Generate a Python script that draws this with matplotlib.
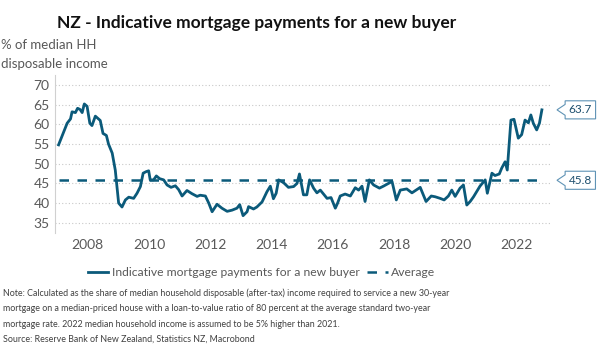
import numpy as np
import matplotlib
matplotlib.use("Agg")
import matplotlib.pyplot as plt
from matplotlib.path import Path

plt.rcParams['font.family'] = ['Lato', 'DejaVu Sans']

# decimal year, % of median HH disposable income
dates = [2007.05, 2007.22, 2007.33, 2007.44, 2007.49, 2007.60, 2007.67, 2007.75, 2007.82,
         2007.89, 2007.98, 2008.07, 2008.14, 2008.25, 2008.41, 2008.50, 2008.61, 2008.68,
         2008.80, 2008.90, 2009.01, 2009.12, 2009.23, 2009.34, 2009.50, 2009.61, 2009.72,
         2009.81, 2009.91, 2009.99, 2010.04, 2010.15, 2010.24, 2010.35, 2010.48, 2010.59,
         2010.72, 2010.86, 2010.97, 2011.08, 2011.24, 2011.40, 2011.57, 2011.67, 2011.84,
         2011.95, 2012.06, 2012.22, 2012.38, 2012.55, 2012.71, 2012.87, 2012.96, 2013.07,
         2013.20, 2013.25, 2013.41, 2013.52, 2013.69, 2013.85, 2013.96, 2014.06, 2014.15,
         2014.23, 2014.39, 2014.55, 2014.72, 2014.83, 2014.91, 2015.04, 2015.15, 2015.24,
         2015.37, 2015.48, 2015.59, 2015.81, 2015.94, 2016.08, 2016.15, 2016.24, 2016.40,
         2016.57, 2016.73, 2016.84, 2016.95, 2017.05, 2017.19, 2017.33, 2017.52, 2017.65,
         2017.93, 2018.07, 2018.20, 2018.41, 2018.58, 2018.85, 2019.04, 2019.21, 2019.34,
         2019.50, 2019.63, 2019.77, 2019.88, 2019.99, 2020.15, 2020.26, 2020.37, 2020.48,
         2020.59, 2020.80, 2020.97, 2021.04, 2021.19, 2021.29, 2021.43, 2021.51, 2021.62,
         2021.69, 2021.81, 2021.91, 2022.05, 2022.16, 2022.27, 2022.38, 2022.46, 2022.54,
         2022.65, 2022.74, 2022.82]
payments = [54.8, 58.1, 60.3, 61.4, 63.2, 63.0, 64.1, 63.8, 63.0,
            65.2, 64.6, 60.3, 59.7, 62.1, 61.0, 57.7, 57.2, 55.0,
            52.7, 48.4, 40.0, 39.0, 40.8, 41.5, 41.2, 42.5, 44.2,
            47.6, 48.0, 48.2, 45.9, 45.9, 46.9, 46.2, 45.9, 44.6,
            44.0, 44.4, 43.4, 41.8, 43.2, 42.4, 41.7, 42.0, 41.8,
            40.0, 37.8, 39.7, 38.7, 37.9, 38.2, 38.7, 39.6, 36.8,
            37.8, 39.1, 38.5, 39.0, 40.3, 42.9, 44.3, 41.1, 42.5,
            45.9, 45.2, 44.0, 44.2, 45.0, 47.4, 42.1, 42.1, 45.9,
            43.8, 42.6, 43.3, 41.2, 41.4, 38.7, 39.9, 41.8, 42.3,
            41.8, 43.9, 43.3, 44.3, 40.4, 45.9, 44.6, 43.8, 44.3,
            45.5, 40.8, 43.3, 43.6, 42.6, 44.0, 40.4, 41.8, 41.6,
            41.2, 40.8, 41.8, 43.3, 41.7, 43.8, 44.6, 39.5, 40.4,
            41.6, 44.3, 45.9, 42.5, 47.6, 47.0, 47.4, 48.9, 50.5,
            48.4, 61.1, 61.3, 56.5, 57.4, 61.1, 60.4, 62.4, 60.3,
            58.6, 60.3, 63.7]
average = 45.8

year_ticks = [2008, 2010, 2012, 2014, 2016, 2018, 2020, 2022]
value_ticks = [35, 40, 45, 50, 55, 60, 65, 70]

note = ("Note: Calculated as the share of median household disposable (after-tax) income required to service a new 30-year\n"
        "mortgage on a median-priced house with a loan-to-value ratio of 80 percent at the average standard two-year\n"
        "mortgage rate. 2022 median household income is assumed to be 5% higher than 2021.\n"
        "Source: Reserve Bank of New Zealand, Statistics NZ, Macrobond")

line_col = '#0b5a7a'
grey = '#595959'


def tag_box(x0, y0, width, height, mutation_size):
    """Rectangle with a small notch pointing left (value tag)."""
    pad = 0.3 * mutation_size
    x0, y0 = x0 - pad, y0 - pad
    w, h = width + 2 * pad, height + 2 * pad
    ym = y0 + h / 2
    n = 0.3 * h
    verts = [(x0, y0), (x0 + w, y0), (x0 + w, y0 + h), (x0, y0 + h),
             (x0, ym + n), (x0 - 0.45 * h, ym), (x0, ym - n), (x0, y0)]
    return Path(verts, closed=True)


fig = plt.figure(figsize=(6, 3.53), dpi=100)
ax = fig.add_axes([0.092, 0.34, 0.828, 0.448])

ax.plot(dates, payments, color=line_col, lw=2.0, solid_joinstyle='round',
        label='Indicative mortgage payments for a new buyer')
ax.plot([dates[0], dates[-1]], [average, average], color=line_col, lw=1.8,
        dashes=(3.8, 3.4), label='Average')

ax.set_xlim(2006.94, 2023.15)
ax.set_ylim(32.4, 72.6)
ax.set_xticks(year_ticks)
ax.set_yticks(value_ticks)
ax.tick_params(length=0, labelsize=10, colors=grey, pad=4)
ax.yaxis.grid(True, linestyle=(0, (1, 2)), color='#c8c8c8', lw=0.8)
for s in ['top', 'right', 'bottom']:
    ax.spines[s].set_visible(False)
ax.spines['left'].set_color('#d0d0d0')

for v in [payments[-1], average]:
    ax.annotate(f"{v:.1f}", xy=(1.0, v), xycoords=('axes fraction', 'data'),
                xytext=(12, 0), textcoords='offset points', ha='left', va='center',
                fontsize=8.5, color='#1d4f6e', annotation_clip=False,
                bbox=dict(boxstyle=tag_box, fc='white', ec='#5f93b5', lw=0.8))

fig.text(0.428, 0.935, "NZ - Indicative mortgage payments for a new buyer",
         ha='center', va='center', fontsize=12.5, fontweight='bold', color='#111111')
fig.text(0.002, 0.872, "% of median HH", ha='left', va='center', fontsize=9.5, color=grey)
fig.text(0.002, 0.818, "disposable income", ha='left', va='center', fontsize=9.5, color=grey)

fig.legend(loc='center', bbox_to_anchor=(0.436, 0.228), ncol=2, frameon=False,
           fontsize=8.7, labelcolor=grey, handlelength=1.7, handletextpad=0.3,
           columnspacing=0.6)

fig.text(0.005, 0.183, note, ha='left', va='top', fontsize=6.4, color='#404040',
         linespacing=1.9)

fig.savefig('out.png', dpi=100)
